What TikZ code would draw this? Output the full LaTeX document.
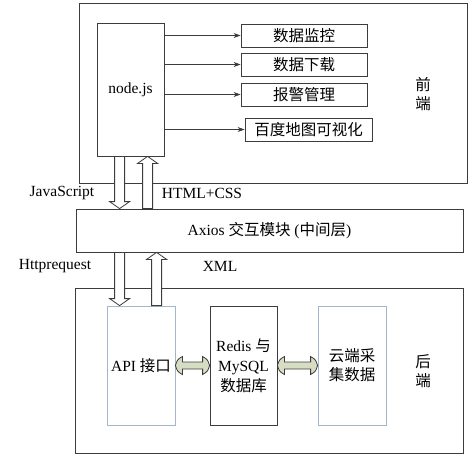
\documentclass[tikz,border=0pt]{standalone}
\usepackage{fontspec}
\setmainfont{Liberation Serif}
\newfontfamily\cjk{Noto Sans CJK SC}
\usetikzlibrary{calc,positioning}
\usetikzlibrary{arrows.meta}
\newcommand{\zh}[1]{{\cjk #1}}
\definecolor{edgeblue}{HTML}{A3B6CE}
\definecolor{pipegreen}{HTML}{D6DDC3}
\definecolor{linegray}{HTML}{3C3C3C}

% vertical block arrow from #1 (tail) to #2 (tip)
\newcommand{\blockv}[2]{%
  \draw[fill=white] let \p1=(#1), \p2=(#2), \n1={sign(\y2-\y1)} in
    (\x1-5pt,\y1) -- (\x1-5pt,\y2-\n1*7pt) -- (\x1-10pt,\y2-\n1*7pt) -- (\x2,\y2)
    -- (\x1+10pt,\y2-\n1*7pt) -- (\x1+5pt,\y2-\n1*7pt) -- (\x1+5pt,\y1) -- cycle;}
% horizontal double block arrow between #1 and #2
\newcommand{\blockh}[2]{%
  \draw[fill=pipegreen] let \p1=(#1), \p2=(#2) in
    (\x1,\y1) .. controls (\x1+2pt,\y1+6pt) .. (\x1+7pt,\y1+9pt)
    -- (\x1+7pt,\y1+3.5pt) -- (\x2-7pt,\y1+3.5pt) -- (\x2-7pt,\y1+9pt)
    .. controls (\x2-2pt,\y1+6pt) .. (\x2,\y1)
    .. controls (\x2-2pt,\y1-6pt) .. (\x2-7pt,\y1-9pt)
    -- (\x2-7pt,\y1-3.5pt) -- (\x1+7pt,\y1-3.5pt) -- (\x1+7pt,\y1-9pt)
    .. controls (\x1+2pt,\y1-6pt) .. (\x1,\y1) -- cycle;}

\begin{document}
\begin{tikzpicture}%
  [x=1pt, y=-1pt, line width=0.8pt, draw=linegray,
   node font=\fontsize{15.5pt}{19pt}\selectfont, >={Stealth[length=7pt,width=5pt]},
   box/.style={rectangle, draw=linegray, inner sep=0pt},
   task/.style={box, minimum width=126pt, minimum height=23pt}]

  \useasboundingbox (0,0) rectangle (474,456);

  % front end
  \node (front) at (273,93) [box, minimum width=388pt, minimum height=180pt] {};
  \node (nodejs) at (130.5,89.5) [box, minimum width=67pt, minimum height=133pt] {node.js};
  \node (mon) at (304,35.5) [task] {\zh{数据监控}};
  \node (dl) at (304,64.5) [task] {\zh{数据下载}};
  \node (alarm) at (304,94.5) [task] {\zh{报警管理}};
  \node (map) at (308.5,129.5) [task, minimum width=127pt] {\zh{百度地图可视化}};
  \node (qian) at (423,94) [align=center] {\zh{前}\\\zh{端}};

  \draw[->] (nodejs.east |- mon.west) -- (mon.west);
  \draw[->] (nodejs.east |- dl.west) -- (dl.west);
  \draw[->] (nodejs.east |- alarm.west) -- (alarm.west);
  \draw[->] (nodejs.east |- map.west) -- (map.west);

  % middle layer
  \node (axios) at (269.5,230.5) [box, minimum width=387pt, minimum height=43pt]
        {Axios \zh{交互模块} (\zh{中间层})};

  % back end
  \node (back) at (269,370.5) [box, minimum width=388pt, minimum height=165pt] {};
  \node (api) at (141,365.5) [box, draw=edgeblue, minimum width=68pt, minimum height=119pt]
        {API \zh{接口}};
  \node (db) at (243.5,365.5) [box, minimum width=67pt, minimum height=119pt,
        align=center, font=\fontsize{15.5pt}{20pt}\selectfont]
        {Redis \zh{与}\\MySQL\\\zh{数据库}};
  \node (cloud) at (352,365.5) [box, draw=edgeblue, minimum width=68pt, minimum height=119pt,
        align=center] {\zh{云端采}\\\zh{集数据}};
  \node (hou) at (423,371) [align=center] {\zh{后}\\\zh{端}};

  \blockh{api.east}{db.west}
  \blockh{db.east}{cloud.west}

  % links between layers
  \coordinate (jsout) at ($(nodejs.south west)+(23,0)$);
  \coordinate (htmlin) at ($(nodejs.south west)+(51,0)$);
  \coordinate (reqout) at (jsout |- axios.south);
  \coordinate (xmlin) at ($(api.north west)+(50,0)$);

  \blockv{jsout}{jsout |- axios.north}
  \blockv{htmlin |- axios.north}{htmlin}
  \blockv{reqout}{reqout |- api.north}
  \blockv{xmlin}{xmlin |- axios.south}

  \node (js) at (62,193) {JavaScript};
  \node (html) at (202,193) {HTML+CSS};
  \node (req) at (55,266) {Httprequest};
  \node (xml) at (220,266) {XML};

\end{tikzpicture}
\end{document}
